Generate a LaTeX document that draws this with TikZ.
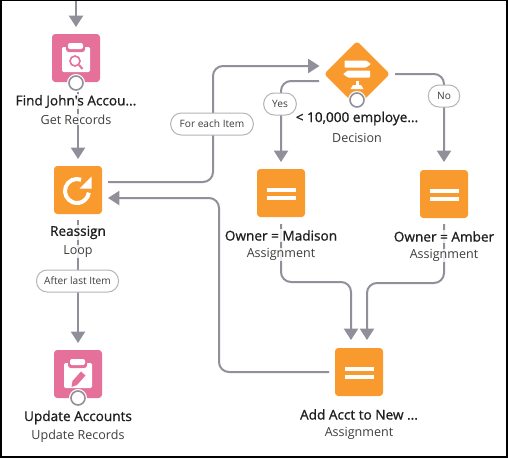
\documentclass[tikz,border=0pt]{standalone}
\usepackage{fontspec}
\setmainfont{Open Sans}
\newfontfamily\semib[FakeBold=1.0]{Open Sans}
\usetikzlibrary{arrows.meta,calc,shapes.geometric}
\definecolor{pinkic}{HTML}{E5709A}
\definecolor{orangeic}{HTML}{F99A2E}
\definecolor{linegr}{HTML}{918F99}
\definecolor{pillgr}{HTML}{B5B5B5}
\definecolor{txt}{HTML}{3E3E3C}
\tikzset{
  tile/.style={minimum size=36pt,inner sep=0pt,rounded corners=2.5pt,fill=#1},
  diam/.style={diamond,aspect=1,minimum size=49.5pt,inner sep=0pt,rounded corners=2.5pt,fill=orangeic},
  ring/.style={circle,minimum size=10.5pt,inner sep=0pt,draw=linegr,line width=1.2pt,fill=white,preaction={draw=white,line width=3pt}},
  ttl/.style={font=\semib\fontsize{10.2pt}{12pt}\selectfont,text=black!88,inner sep=0.6pt,fill=white,fill opacity=.82,text opacity=1},
  sub/.style={font=\fontsize{9.4pt}{11pt}\selectfont,text=txt,inner sep=0.6pt,fill=white,fill opacity=.82,text opacity=1},
  pill/.style={draw=pillgr,line width=.75pt,fill=white,rounded corners=8pt,font=\fontsize{7.6pt}{9pt}\selectfont,text=txt,inner sep=0pt,minimum height=16.5pt},
  flow/.style={draw=linegr,line width=1.5pt,rounded corners=7.5pt},
  tip/.style={-{Triangle[length=8.5pt,width=10.5pt]}},
  whitebar/.style={fill=white,draw=none},
}
\newcommand{\clipb}[2]{%
  \fill[white,rounded corners=1pt] ($(#1,#2)+(-14,-11)$) rectangle ($(#1,#2)+(14,14)$);
  \fill[pinkic,rounded corners=2pt] ($(#1,#2)+(-10,-16)$) rectangle ($(#1,#2)+(9,-6)$);
  \fill[white,rounded corners=1.5pt] ($(#1,#2)+(-8,-15)$) rectangle ($(#1,#2)+(7,-9)$);
}
\begin{document}
\begin{tikzpicture}[x=.75pt,y=-.75pt]
\useasboundingbox (0,0) rectangle (508,458);
\fill[white] (0,0) rectangle (508,458);

% coordinates of free ports
\coordinate (topin) at (76,0);
\coordinate (loopout) at (108,182);
\coordinate (loopin) at (108,198);
\coordinate (decin) at (319.5,66);
\coordinate (decyes) at (319,81);
\coordinate (decno) at (395,74);
\coordinate (addout) at (329,372);
\coordinate (addinA) at (351,340);
\coordinate (addinB) at (367,340);

% icons
\node[tile=pinkic] (get) at (76,58) {};
\node[tile=orangeic] (loop) at (78,190) {};
\node[tile=pinkic] (upd) at (78,374) {};
\node[diam] (dec) at (357,74) {};
\node[tile=orangeic] (madi) at (281,193) {};
\node[tile=orangeic] (amber) at (444,194) {};
\node[tile=orangeic] (add) at (359,372) {};

% connectors
\draw[flow,tip] (topin) -- (76,27);
\draw[flow,tip] (78,92) -- (78,159);
\draw[flow,tip] (78,220) -- (78,343);
\draw[flow,tip] (loopout) -- (213,182) -- (213,66) -- (decin);
\draw[flow,tip] (decyes) -- (281,81) -- (281,162);
\draw[flow,tip] (decno) -- (444,74) -- (444,162);
\draw[flow,tip] (281,224) -- (281,282) -- (351,282) -- (addinA);
\draw[flow,tip] (444,224) -- (444,283) -- (367,283) -- (addinB);
\draw[flow,tip] (addout) -- (219,372) -- (219,198) -- (loopin);

% pills
\node[pill,minimum width=62pt] (pe) at (212,124) {For each Item};
\node[pill,minimum width=24.5pt] (py) at (280,104) {Yes};
\node[pill,minimum width=23.5pt] (pn) at (444,96) {No};
\node[pill,minimum width=61.5pt] (pl) at (77.5,281) {After last Item};

% clipboard icons
\clipb{76}{58}
\draw[pinkic,line width=1.2pt] (75,61) circle (5);
\draw[pinkic,line width=1.5pt] (79,65) -- (82.5,69);
\clipb{78}{374}
\fill[pinkic] (71.5,387) -- (72.5,381) -- (81,371.5) -- (85.5,375.5) -- (77,385) -- cycle;

% loop icon: screen angle = -a because y is flipped
\draw[white,line width=3pt] (77,191) ++(-70:12) arc[start angle=-70,end angle=-352,radius=12];
\fill[white] (91.5,176.5) -- (91.5,188.5) -- (79.5,188.5) -- cycle;

% decision icon
\fill[white,rounded corners=.5pt] (344.5,60.5) -- (366,60.5) -- (371,64) -- (366,67.5) -- (344.5,67.5) -- cycle;
\fill[white,rounded corners=.5pt] (348,70.5) -- (370,70.5) -- (370,77.5) -- (348,77.5) -- (343,74) -- cycle;
\fill[white] (355.5,81) rectangle (358.5,85);
\fill[white] (353,85) -- (361,85) -- (363.5,89) -- (350.5,89) -- cycle;

% equals
\foreach \n/\cx/\cy in {madi/281/193,amber/444/194,add/359/372}{
  \fill[whitebar] ($(\cx,\cy)+(-14.5,-5)$) rectangle ($(\cx,\cy)+(14.5,-1.5)$);
  \fill[whitebar] ($(\cx,\cy)+(-14.5,3)$) rectangle ($(\cx,\cy)+(14.5,6.5)$);
}

% rings
\node[ring] (r1) at (76,83) {};
\node[ring] (r2) at (78,398) {};
\node[ring] (r3) at (357,100) {};

% labels
\node[ttl] (t1) at (76,101.5) {Find John's Accou...};
\node[sub] (s1) at (76,119.5) {Get Records};
\node[ttl] (t2) at (78,232.5) {Reassign};
\node[sub] (s2) at (78,251.5) {Loop};
\node[ttl] (t3) at (78,417.5) {Update Accounts};
\node[sub] (s3) at (78,436.5) {Update Records};
\node[ttl] (t4) at (357,118.5) {< 10,000 employe...};
\node[sub] (s4) at (357,137.5) {Decision};
\node[ttl] (t5) at (281,235.5) {Owner = Madison};
\node[sub] (s5) at (281,254.5) {Assignment};
\node[ttl] (t6) at (444,236.5) {Owner = Amber};
\node[sub] (s6) at (444,255.5) {Assignment};
\node[ttl] (t7) at (359,414.5) {Add Acct to New ...};
\node[sub] (s7) at (359,433.5) {Assignment};

% frame
\draw[black,line width=1.2pt] (.8,.5) rectangle (507,457);
\end{tikzpicture}
\end{document}
